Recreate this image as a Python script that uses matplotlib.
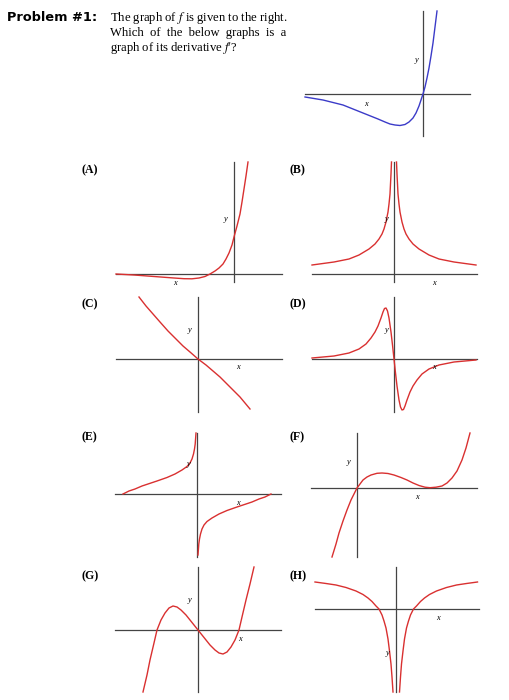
import matplotlib
matplotlib.use("Agg")
import numpy as np
from matplotlib import pyplot as plt

W, H = 509, 700
plt.rcParams["mathtext.fontset"] = "stix"

# Curves, each point given as (dx, dy) in pixels from the panel origin (dy up)
f_pts = [(-118, -3), (-100, -6), (-80, -11), (-60, -19), (-45, -25), (-38, -28), (-33, -30),
         (-28, -31), (-23, -31.5), (-18, -30.5), (-14, -28), (-10, -24), (-7, -19), (-4, -12),
         (-2, -6), (0, 0), (2, 7), (4, 16), (6, 26), (8, 38), (10, 51), (12, 67), (14, 83)]
a_pts = [(-118, 0), (-100, -1), (-80, -2.5), (-60, -4), (-50, -4.7), (-42, -4.8), (-35, -4),
         (-29, -2.5), (-24, 0), (-19, 3), (-15, 6), (-11, 10), (-8, 15), (-5, 21), (-2, 29),
         (0, 37), (3, 48), (6, 60), (8, 72), (10, 85), (12, 98), (14, 112)]
b_left = [(-82, 9), (-60, 12), (-45, 15), (-35, 19), (-25, 25), (-19, 30), (-15, 35),
          (-12, 40), (-10, 45), (-8, 52), (-6, 62), (-5, 70), (-4, 80), (-3.5, 90),
          (-3, 100), (-2.5, 112)]
b_right = [(-x, y) for x, y in reversed(b_left)]
c_pts = [(-59, 62), (-52, 53), (-45, 45), (-38, 37), (-30, 28), (-22, 20), (-15, 13),
         (-8, 7), (0, 0), (8, -6), (15, -12), (22, -18), (30, -26), (36, -32), (42, -38),
         (47, -44), (52, -50)]
d_pts = [(-82, 1), (-60, 3), (-45, 6), (-35, 10), (-28, 15), (-23, 21), (-19, 27), (-16, 33),
         (-13, 41), (-11, 47), (-9.5, 50.5), (-8, 51), (-6.5, 48), (-5, 41), (-3, 27), (-1.5, 14),
         (0, 0), (1.5, -14), (3, -27), (5, -41), (6.5, -48), (8, -51), (9.5, -50.5), (11, -47),
         (13, -41), (16, -33), (19, -27), (23, -21), (28, -15), (35, -10), (45, -6),
         (60, -3), (82, -1)]
e_left = [(-74, 0), (-71, 1.5), (-68, 3), (-62, 5), (-55, 8), (-40, 13), (-30, 16.5),
          (-22, 20), (-15, 24), (-10, 27.5), (-7, 31), (-5, 35), (-3.5, 40), (-2.5, 45),
          (-1.8, 50), (-1, 61)]
e_right = [(-x, -y) for x, y in reversed(e_left)]
f2_pts = [(-25, -69), (-21, -56), (-18, -45), (-14, -33), (-10, -22), (-6, -12), (-3, -6),
          (0, 0), (3, 4), (6, 8), (10, 11), (14, 13), (20, 14.7), (25, 15), (31, 14.5),
          (37, 13), (44, 10.5), (50, 8), (56, 5), (62, 2.5), (68, 0.8), (73, 0.3), (79, 0.8),
          (85, 2), (90, 5), (95, 10), (100, 17), (105, 28), (109, 40), (113, 55)]
g_pts = [(-55, -62), (-51, -45), (-48, -30), (-44, -13), (-41, 0), (-37, 10), (-33, 17),
         (-29, 22), (-25, 24), (-21, 23), (-17, 20), (-12, 15), (-8, 10), (-4, 5), (0, 0),
         (4, -5), (8, -10), (12, -15), (17, -20), (21, -23), (25, -24), (29, -22), (33, -17),
         (37, -10), (41, 0), (44, 13), (48, 30), (52, 46), (56, 63)]
h_left = [(-81, 27), (-70, 25.5), (-60, 24), (-50, 21.5), (-40, 18), (-33, 14.5),
          (-28, 11), (-24, 7.5), (-20, 3), (-17, 0), (-14, -6), (-12, -12), (-10, -19),
          (-8, -30), (-6.5, -42), (-5, -55), (-4, -68), (-3, -83)]
h_right = [(-x + 0.5, y) for x, y in reversed(h_left)]

# panel: origin (px), x-axis extent, y-axis extent (relative), curves, colour, label, y-label pos, x-label pos
panels = [
    ((423, 94), (-118, 47), (-42, 83), [f_pts], "#3b3bc8", None, (-6, 34), (-57, -10)),
    ((234, 274), (-118, 48), (-8, 112), [a_pts], "#d93030", "(A)", (-8, 55), (-59, -9)),
    ((394, 274), (-82, 83), (-8, 112), [b_left, b_right], "#d93030", "(B)", (-7, 55), (40, -9)),
    ((198, 359), (-82, 84), (-53, 62), [c_pts], "#d93030", "(C)", (-8, 29), (40, -8)),
    ((394, 359), (-82, 83), (-53, 62), [d_pts], "#d93030", "(D)", (-7, 29), (40, -8)),
    ((197, 494), (-82, 84), (-63, 61), [e_left, e_right], "#d93030", "(E)", (-8, 30), (41, -9)),
    ((357, 488), (-46, 120), (-69, 55), [f2_pts], "#d93030", "(F)", (-8, 26), (60, -9)),
    ((198, 630), (-83, 83), (-62, 63), [g_pts], "#d93030", "(G)", (-8, 30), (42, -9)),
    ((396, 609), (-81, 83), (-83, 42), [h_left, h_right], "#d93030", "(H)", (-8, -44), (42, -9)),
]
label_x = {"(A)": 82, "(C)": 82, "(E)": 82, "(G)": 82}
label_y = {"(A)": 170, "(B)": 170, "(C)": 304, "(D)": 304, "(E)": 437, "(F)": 437,
           "(G)": 576, "(H)": 576}

fig = plt.figure(figsize=(W / 100, H / 100), dpi=100)
bg = fig.add_axes([0, 0, 1, 1])
bg.set_xlim(0, W)
bg.set_ylim(H, 0)
bg.axis("off")

# Header text
bg.text(7, 21, "Problem #1:", fontsize=9.3, fontweight="bold", family="DejaVu Sans", va="baseline")
serif = "Liberation Serif"
bg.text(110, 21, "The graph of $f$ is given to the right.", fontsize=9.1, family=serif,
        va="baseline")
bg.text(110, 36, "Which  of  the  below  graphs  is  a", fontsize=9.1, family=serif,
        va="baseline")
bg.text(110, 51, "graph of its derivative $f$'?", fontsize=9.1, family=serif, va="baseline")

pad = 6
for (ox, oy), (x0, x1), (y0, y1), curves, color, label, ylab, xlab in panels:
    left, right = ox + x0 - pad, ox + x1 + pad
    top, bottom = oy - y1 - pad, oy - y0 + pad
    ax = fig.add_axes([left / W, 1 - bottom / H, (right - left) / W, (bottom - top) / H])
    ax.set_xlim(x0 - pad, x1 + pad)
    ax.set_ylim(y0 - pad, y1 + pad)
    ax.axis("off")
    ax.plot([x0, x1], [0, 0], color="#444444", lw=0.9)
    ax.plot([0, 0], [y0, y1], color="#444444", lw=0.9)
    for pts in curves:
        arr = np.array(pts, dtype=float)
        ax.plot(arr[:, 0], arr[:, 1], color=color, lw=1.0, solid_joinstyle="round")
    ax.text(ylab[0], ylab[1], "y", fontsize=6, family=serif, style="italic", ha="center", va="center")
    ax.text(xlab[0], xlab[1], "x", fontsize=6, family=serif, style="italic", ha="center", va="center")
    if label:
        bg.text(label_x.get(label, 290), label_y[label], label, fontsize=8.5, fontweight="bold",
                family=serif, va="center")

fig.savefig("out.png", dpi=100)
